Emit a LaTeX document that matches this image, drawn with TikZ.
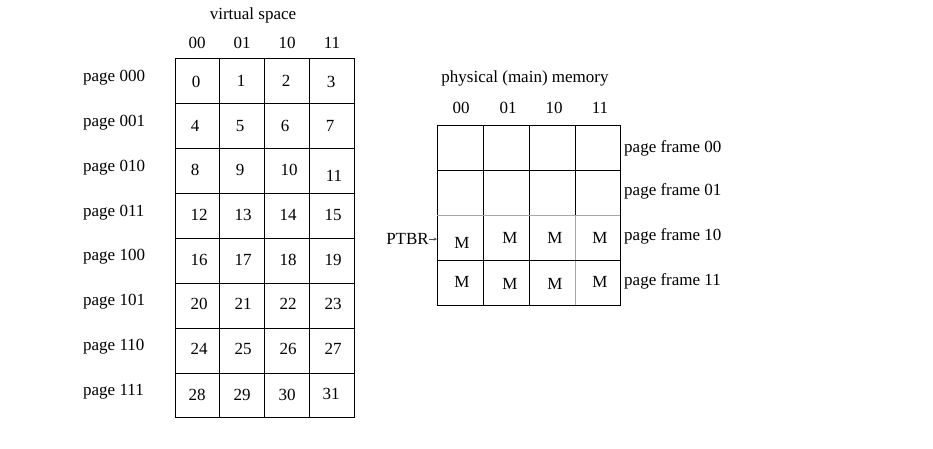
\documentclass[tikz,border=0pt]{standalone}
\usepackage{fontspec}
\setmainfont{Liberation Serif}
\begin{document}
\begin{tikzpicture}[x=1pt,y=-1pt,every node/.style={font=\fontsize{17}{19}\selectfont,inner sep=0pt},
 grid/.style={line width=0.8pt,black}, lgrid/.style={line width=0.8pt,gray!70}]
\useasboundingbox (0,0) rectangle (933,448);
\node (vs) at (253,15) {virtual space};
\foreach \t/\x in {00/197,01/242,10/287,11/332} \node (vh\t) at (\x,43) {\t};
\draw[grid] (175,58) rectangle (354,417);
\foreach \x in {219,264,309} \draw[grid] (\x,58) -- (\x,417);
\foreach \y in {103,148,193,238,283,328,373} \draw[grid] (175,\y) -- (354,\y);
\foreach \t/\y in {000/78,001/123,010/168,011/213,100/257,101/302,110/347,111/392}
  \node[anchor=west] (pg\t) at (83,\y) {page \t};
\foreach \n/\x/\y in {0/196/82,1/241/81,2/286/81,3/331/82,4/195/126,5/240/126,6/285/126,7/330/126,
 8/195/170,9/240/170,10/289/170,11/334/176,12/199/215,13/243/215,14/288/215,15/333/215,
 16/199/260,17/243/260,18/288/260,19/333/260,20/199/304,21/243/304,22/288/304,23/333/304,
 24/199/349,25/243/349,26/288/349,27/333/349,28/197/395,29/242/395,30/287/395,31/331/394}
  \node (v\n) at (\x,\y) {\n};
\node (pm) at (525,78) {physical (main) memory};
\foreach \t/\x in {00/461,01/508,10/554,11/600} \node (ph\t) at (\x,108) {\t};
\draw[grid] (437,125) rectangle (620,305);
\draw[grid] (483,125) -- (483,305);
\draw[grid] (529,125) -- (529,305);
\draw[grid] (575,125) -- (575,215);
\draw[lgrid] (575,215) -- (575,305);
\draw[grid] (437,170) -- (620,170);
\draw[lgrid] (437,215) -- (620,215);
\draw[grid] (437,260) -- (620,260);
\foreach \i/\x/\y in {a/462/243,b/510/238,c/555/238,d/600/238,e/462/282,f/510/284,g/555/284,h/600/282}
  \node (m\i) at (\x,\y) {M};
\foreach \t/\y in {00/148,01/191,10/236,11/281}
  \node[anchor=west] (pf\t) at (624,\y) {page frame \t};
\node[anchor=east] (ptbr) at (429,239) {PTBR};
\coordinate (ptbrend) at (437,239);
\draw[-stealth,line width=0.5pt,gray!60!black] (ptbr.east) -- (ptbrend);
\end{tikzpicture}
\end{document}
